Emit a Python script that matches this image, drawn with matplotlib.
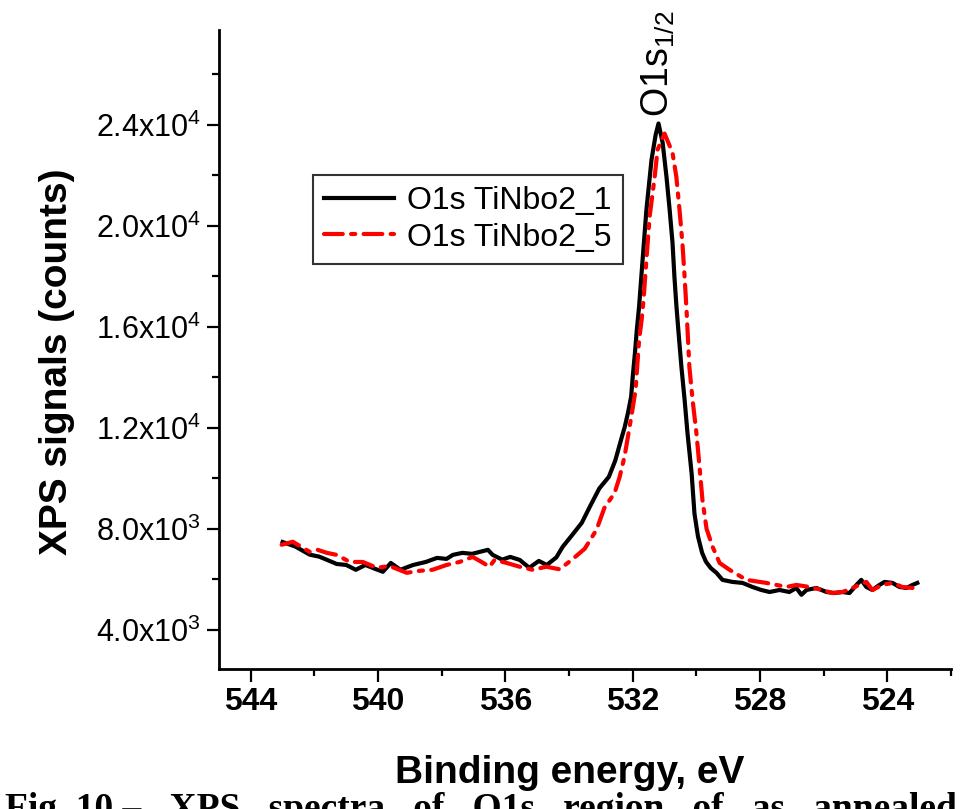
import matplotlib
matplotlib.use("Agg")
import matplotlib.pyplot as plt
from matplotlib.ticker import MultipleLocator, FuncFormatter

# O1s TiNbo2_1 (svart, heltrukken)
e_1 = [543.0, 542.6, 542.15, 541.85, 541.6, 541.3, 541.0, 540.7, 540.4, 540.1,
       539.85, 539.6, 539.3, 538.9, 538.5, 538.15, 537.85, 537.65, 537.35, 537.05,
       536.8, 536.55, 536.4, 536.1, 535.85, 535.55, 535.25, 534.95, 534.7, 534.4,
       534.2, 533.9, 533.6, 533.35, 533.05, 532.75, 532.55, 532.35, 532.25, 532.15,
       532.05, 532.0, 531.93, 531.87, 531.8, 531.69, 531.57, 531.41, 531.28, 531.19,
       531.06, 530.94, 530.84, 530.75, 530.69, 530.63, 530.56, 530.47, 530.37, 530.28,
       530.15, 530.06, 529.95, 529.82, 529.7, 529.55, 529.37, 529.18, 528.87, 528.55,
       528.24, 527.96, 527.7, 527.39, 527.08, 526.86, 526.7, 526.54, 526.23, 525.91,
       525.66, 525.41, 525.19, 524.97, 524.82, 524.66, 524.47, 524.25, 524.09, 523.84,
       523.62, 523.4, 523.21, 523.06]
i_1 = [7480, 7300, 6980, 6900, 6770, 6610, 6570, 6380, 6570, 6420,
       6300, 6650, 6380, 6570, 6690, 6850, 6810, 6970, 7050, 7010,
       7090, 7170, 6970, 6780, 6890, 6770, 6460, 6730, 6570, 6870,
       7290, 7760, 8240, 8870, 9600, 10060, 10700, 11600, 12040, 12590,
       13230, 14020, 14970, 15900, 16800, 18650, 20630, 22610, 23600, 24050,
       23290, 21940, 20630, 19330, 17980, 16870, 15760, 14410, 13110, 11800,
       10200, 8600, 7700, 7050, 6700, 6450, 6260, 5980, 5900, 5860,
       5700, 5580, 5500, 5580, 5500, 5660, 5390, 5580, 5660, 5500,
       5460, 5500, 5460, 5780, 5980, 5700, 5580, 5780, 5900, 5860,
       5700, 5660, 5780, 5860]

# O1s TiNbo2_5 (rød, strek-prikk)
e_5 = [543.03, 542.68, 542.15, 541.9, 541.61, 541.3, 540.89, 540.48, 540.04, 539.64,
       539.1, 538.69, 538.29, 537.85, 537.44, 537.03, 536.75, 536.5, 536.34, 535.96,
       535.55, 535.15, 534.71, 534.3, 533.92, 533.51, 533.14, 532.89, 532.57, 532.41,
       532.26, 532.13, 532.01, 531.91, 531.86, 531.8, 531.72, 531.66, 531.57, 531.47,
       531.31, 531.22, 531.0, 530.75, 530.63, 530.53, 530.44, 530.37, 530.31, 530.22,
       530.12, 530.0, 529.9, 529.81, 529.68, 529.49, 529.27, 528.96, 528.43, 527.8,
       527.17, 526.86, 526.45, 526.04, 525.73, 525.41, 525.1, 524.66, 524.47, 524.16,
       523.84, 523.53, 523.21]
i_5 = [7370, 7490, 7090, 7170, 7050, 6970, 6690, 6690, 6460, 6530,
       6260, 6340, 6380, 6570, 6690, 6890, 6690, 6500, 6770, 6650,
       6500, 6380, 6500, 6400, 6770, 7210, 7960, 8830, 9420, 10060,
       10850, 11800, 12710, 13500, 14410, 15480, 16280, 17070, 18650, 20350,
       21940, 23010, 23650, 22890, 21940, 20630, 19330, 17980, 16670, 14410,
       13110, 11800, 10450, 9150, 8000, 7290, 6650, 6380, 5980, 5860,
       5700, 5780, 5700, 5580, 5460, 5500, 5660, 5900, 5580, 5780,
       5860, 5700, 5660]

labels = ["O1s TiNbo2_1", "O1s TiNbo2_5"]

plt.rcParams['font.family'] = ['Liberation Sans', 'DejaVu Sans']

fig = plt.figure(figsize=(9.74, 8.09), dpi=100)
ax = fig.add_axes([0.2248, 0.173, 0.7516, 0.7899])

ax.plot(e_1, i_1, color='black', lw=3, label=labels[0])
ax.plot(e_5, i_5, color='red', lw=3, linestyle=(0, (4.5, 2, 1, 2)),
        dash_capstyle='round', label=labels[1])

ax.set_xlim(545, 522)
ax.set_ylim(2450, 27750)

for side in ['top', 'right']:
    ax.spines[side].set_visible(False)
for side in ['left', 'bottom']:
    ax.spines[side].set_linewidth(2)

ax.xaxis.set_minor_locator(MultipleLocator(2))
ax.yaxis.set_minor_locator(MultipleLocator(2000))
ax.set_xticks([544, 540, 536, 532, 528, 524])
ax.set_yticks([4000, 8000, 12000, 16000, 20000, 24000])


def sci(v, pos):
    e = len(str(int(v))) - 1
    return r'$\mathregular{%.1fx10^{%d}}$' % (v / 10 ** e, e)


ax.yaxis.set_major_formatter(FuncFormatter(sci))
ax.tick_params(which='major', direction='out', length=9, width=1.6, pad=4)
ax.tick_params(which='minor', direction='out', length=5, width=1.6)
ax.tick_params(axis='y', labelsize=22)
for t in ax.get_xticklabels():
    t.set_fontweight('bold')
    t.set_fontsize(23)

fig.text(57 / 974, 1 - 362 / 809, "XPS signals (counts)", rotation=90,
         ha='center', va='center', fontsize=28, fontweight='bold')
fig.text(570 / 974, 1 - 773 / 809, "Binding energy, eV",
         ha='center', va='center', fontsize=28, fontweight='bold')

ax.text(531.2, 24300, r'$\mathregular{O1s_{1/2}}$', rotation=90,
        ha='center', va='bottom', fontsize=27)

leg = ax.legend(loc='upper left', bbox_to_anchor=(0.128, 0.773), fontsize=23,
                frameon=True, fancybox=False, borderaxespad=0, borderpad=0.35,
                handlelength=2.2, handletextpad=0.4, labelspacing=0.2)
leg.get_frame().set_edgecolor('black')
leg.get_frame().set_linewidth(1.5)

fig.text(0.005, -0.012, "Fig. 10 \u2013   XPS   spectra   of   O1s   region   of   as   annealed   and",
         ha='left', va='baseline', fontsize=27, fontweight='bold', family='Liberation Serif')

fig.savefig("out.png", dpi=100)
